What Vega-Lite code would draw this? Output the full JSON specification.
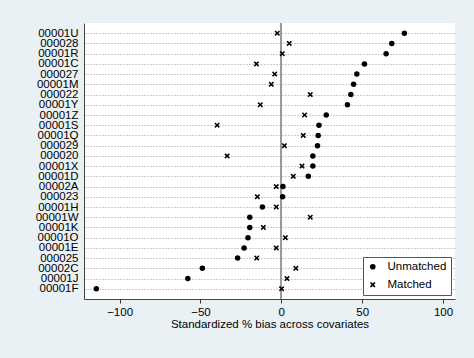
{
  "$schema": "https://vega.github.io/schema/vega-lite/v6.json",
  "autosize": {"type": "none"},
  "padding": {"left": 84, "top": 23, "right": 19, "bottom": 59},
  "width": 371,
  "height": 276,
  "background": "#eaf1f5",
  "config": {
    "view": {"fill": "white", "stroke": null},
    "font": "Liberation Sans",
    "axis": {"labelFont": "Liberation Sans", "titleFont": "Liberation Sans", "labelColor": "black", "titleColor": "black", "domainColor": "#333", "tickColor": "#333"}
  },
  "datasets": {
    "bias": [
      {"id": "00001U", "type": "Unmatched", "bias": 76.1}, {"id": "00001U", "type": "Matched", "bias": -2.5},
      {"id": "000028", "type": "Unmatched", "bias": 68.3}, {"id": "000028", "type": "Matched", "bias": 4.9},
      {"id": "00001R", "type": "Unmatched", "bias": 64.8}, {"id": "00001R", "type": "Matched", "bias": 0.6},
      {"id": "00001C", "type": "Unmatched", "bias": 51.4}, {"id": "00001C", "type": "Matched", "bias": -15.4},
      {"id": "000027", "type": "Unmatched", "bias": 46.7}, {"id": "000027", "type": "Matched", "bias": -4.1},
      {"id": "00001M", "type": "Unmatched", "bias": 44.7}, {"id": "00001M", "type": "Matched", "bias": -6.2},
      {"id": "000022", "type": "Unmatched", "bias": 43.0}, {"id": "000022", "type": "Matched", "bias": 17.9},
      {"id": "00001Y", "type": "Unmatched", "bias": 40.9}, {"id": "00001Y", "type": "Matched", "bias": -13.0},
      {"id": "00001Z", "type": "Unmatched", "bias": 27.8}, {"id": "00001Z", "type": "Matched", "bias": 14.4},
      {"id": "00001S", "type": "Unmatched", "bias": 23.3}, {"id": "00001S", "type": "Matched", "bias": -39.7},
      {"id": "00001Q", "type": "Unmatched", "bias": 22.8}, {"id": "00001Q", "type": "Matched", "bias": 13.6},
      {"id": "000029", "type": "Unmatched", "bias": 22.4}, {"id": "000029", "type": "Matched", "bias": 1.9},
      {"id": "000020", "type": "Unmatched", "bias": 19.5}, {"id": "000020", "type": "Matched", "bias": -33.5},
      {"id": "00001X", "type": "Unmatched", "bias": 19.5}, {"id": "00001X", "type": "Matched", "bias": 12.8},
      {"id": "00001D", "type": "Unmatched", "bias": 16.7}, {"id": "00001D", "type": "Matched", "bias": 7.4},
      {"id": "00002A", "type": "Unmatched", "bias": 1.0}, {"id": "00002A", "type": "Matched", "bias": -3.1},
      {"id": "000023", "type": "Unmatched", "bias": 0.8}, {"id": "000023", "type": "Matched", "bias": -14.8},
      {"id": "00001H", "type": "Unmatched", "bias": -11.7}, {"id": "00001H", "type": "Matched", "bias": -3.1},
      {"id": "00001W", "type": "Unmatched", "bias": -19.5}, {"id": "00001W", "type": "Matched", "bias": 17.9},
      {"id": "00001K", "type": "Unmatched", "bias": -19.5}, {"id": "00001K", "type": "Matched", "bias": -11.1},
      {"id": "00001O", "type": "Unmatched", "bias": -20.6}, {"id": "00001O", "type": "Matched", "bias": 2.5},
      {"id": "00001E", "type": "Unmatched", "bias": -23.0}, {"id": "00001E", "type": "Matched", "bias": -3.1},
      {"id": "000025", "type": "Unmatched", "bias": -27.0}, {"id": "000025", "type": "Matched", "bias": -15.2},
      {"id": "00002C", "type": "Unmatched", "bias": -48.8}, {"id": "00002C", "type": "Matched", "bias": 9.0},
      {"id": "00001J", "type": "Unmatched", "bias": -57.8}, {"id": "00001J", "type": "Matched", "bias": 3.5},
      {"id": "00001F", "type": "Unmatched", "bias": -114.4}, {"id": "00001F", "type": "Matched", "bias": 0.2}
    ]
  },
  "data": {"name": "bias"},
  "encoding": {
    "y": {
      "field": "id", "type": "nominal", "sort": null,
      "scale": {"type": "point", "padding": 1.7},
      "axis": {"title": null, "ticks": false, "labelPadding": 6, "labelFontSize": 11.5, "grid": true, "gridDash": [1, 2], "gridColor": "#999", "gridWidth": 1, "domainColor": "#444", "domainWidth": 1}
    }
  },
  "layer": [
    {
      "mark": {"type": "rule", "color": "#999", "strokeWidth": 1},
      "encoding": {"x": {"datum": 0, "type": "quantitative"}, "y": null}
    },
    {
      "mark": {"type": "point", "filled": true, "color": "black", "opacity": 1, "size": 30},
      "encoding": {
        "x": {
          "field": "bias", "type": "quantitative",
          "scale": {"domain": [-122, 107.4], "nice": false, "zero": false},
          "axis": {"title": "Standardized % bias across covariates", "values": [-100, -50, 0, 50, 100], "grid": false, "labelFontSize": 11.5, "titleFontSize": 11.5, "titleFontWeight": "normal", "tickSize": 4, "labelPadding": 3, "titlePadding": 1, "domainColor": "#444"}
        },
        "shape": {
          "field": "type", "type": "nominal",
          "scale": {"domain": ["Unmatched", "Matched"], "range": ["circle", "M-1,-0.6L-0.6,-1L0,-0.4L0.6,-1L1,-0.6L0.4,0L1,0.6L0.6,1L0,0.4L-0.6,1L-1,0.6L-0.4,0Z"]},
          "legend": {"title": null, "orient": "bottom-right", "offset": 4, "strokeColor": "#555", "fillColor": "white", "padding": 4, "labelFontSize": 11.5, "labelFont": "Liberation Sans", "labelColor": "black", "symbolSize": 32, "symbolFillColor": "black", "symbolStrokeColor": "black", "rowPadding": 5, "labelOffset": 9}
        }
      }
    }
  ]
}
